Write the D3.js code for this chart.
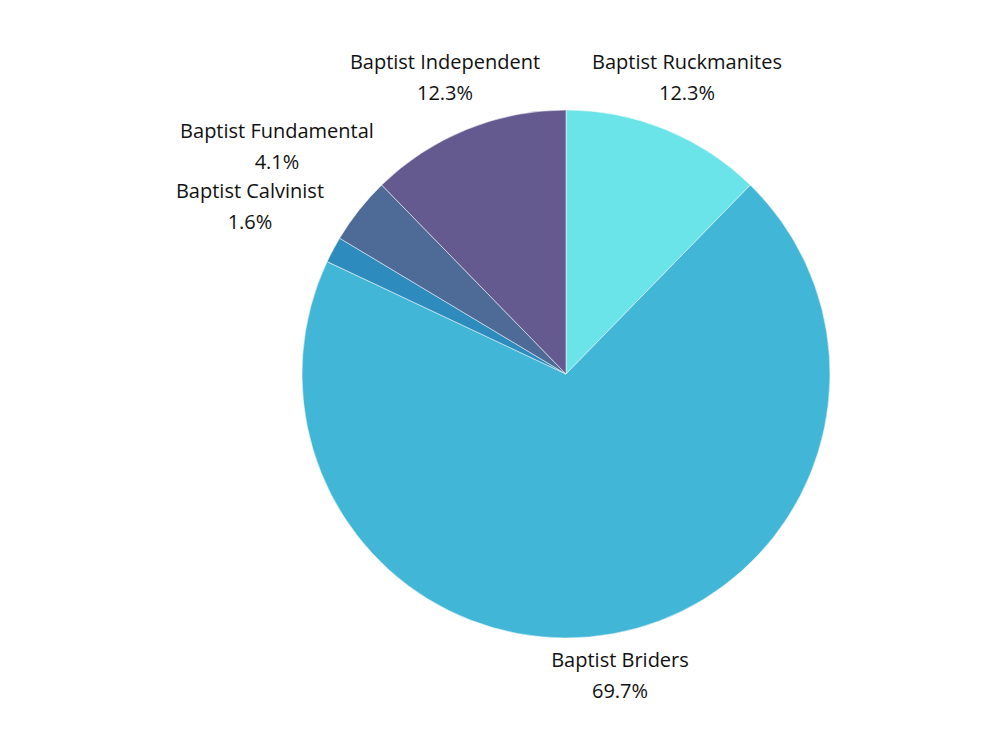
<!DOCTYPE html>
<html><head><meta charset="utf-8">
<script src="https://cdn.jsdelivr.net/npm/d3@7"></script>
<style>body{margin:0;background:#fff}</style></head>
<body><svg id="c" width="1000" height="750"></svg>
<script>
const categories = ["Baptist Ruckmanites","Baptist Briders","Baptist Calvinist","Baptist Fundamental","Baptist Independent"];
const values = [12.3, 69.7, 1.6, 4.1, 12.3];
const colors = ["#6ae4e8","#42b6d6","#2e8bbd","#4e6b98","#645a90"];
// label anchor positions (layout only)
const labelPos = [[687,77],[620,675],[250,206],[277,146],[445,77]];

const svg = d3.select("#c");
const cx = 566, cy = 374, r = 264;
const pie = d3.pie().sort(null).value(d => d)(values);
const arc = d3.arc().innerRadius(0).outerRadius(r);
const g = svg.append("g").attr("transform", `translate(${cx},${cy})`);
g.selectAll("path").data(pie).join("path")
  .attr("d", arc).attr("fill", (d,i) => colors[i])
  .attr("stroke", "#ffffff").attr("stroke-width", 0.5);
const lab = svg.selectAll("text.l").data(pie).join("text")
  .attr("class","l").attr("text-anchor","middle")
  .attr("font-family","Open Sans, sans-serif").attr("font-size",20).attr("fill","#111");
lab.append("tspan").attr("x",(d,i)=>labelPos[i][0]).attr("y",(d,i)=>labelPos[i][1]-8).text((d,i)=>categories[i]);
lab.append("tspan").attr("x",(d,i)=>labelPos[i][0]).attr("y",(d,i)=>labelPos[i][1]+23).text((d,i)=>values[i].toFixed(1)+"%");
</script></body></html>
